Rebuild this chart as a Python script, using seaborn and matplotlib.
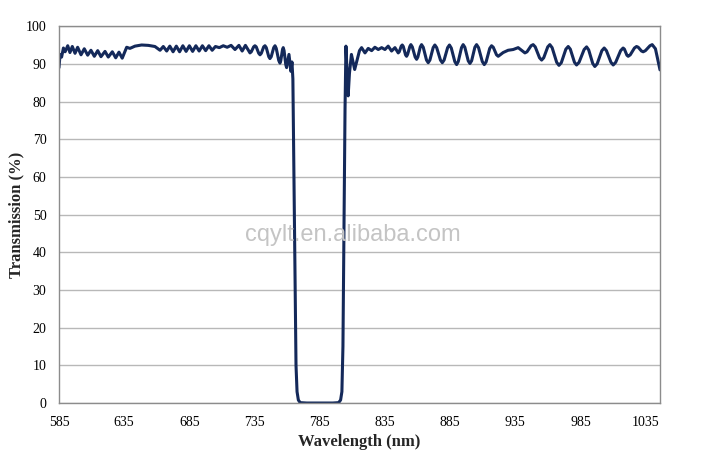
import matplotlib
matplotlib.use('Agg')
import matplotlib.pyplot as plt
import seaborn as sns

# Values (wavelength in nm, transmission in %)
# left pass band
left_nm = [
    585.0, 585.8, 587.0, 588.4, 589.7, 591.7, 593.4, 595.2, 597.3, 599.3,
    601.9, 604.4, 607.0, 609.5, 612.1, 614.7, 617.2, 620.3, 622.8, 625.9,
    628.5, 631.0, 633.5, 636.9, 639.4, 643.3, 648.4, 653.5, 658.6, 662.5,
    665.0, 667.6, 670.0, 672.5, 675.0, 677.5, 680.0, 682.5, 685.0, 687.5,
    690.0, 692.5, 695.0, 697.5, 700.0, 702.5, 705.0, 708.0, 711.0, 714.0,
    717.0, 720.0, 723.0, 725.5, 728.0, 731.5, 732.5, 734.3, 735.3, 736.3,
    738.2, 739.2, 740.2, 742.0, 743.0, 744.0, 745.9, 746.8, 747.8, 749.7,
    750.7, 751.65, 753.55, 754.5, 755.1, 756.4, 757.0, 757.65, 758.95, 759.6,
    761.4, 762.9, 763.7,
]
left_pct = [
    89.0, 92.5, 91.8, 94.2, 93.2, 94.8, 93.0, 94.6, 92.8, 94.4,
    92.4, 94.0, 92.3, 93.6, 92.0, 93.5, 91.9, 93.3, 91.8, 93.2,
    91.6, 93.1, 91.5, 94.4, 94.1, 94.7, 95.0, 94.9, 94.6, 93.6,
    94.6, 93.4, 94.7, 93.2, 94.7, 93.2, 94.8, 93.3, 94.8, 93.3,
    94.8, 93.4, 94.8, 93.5, 94.8, 93.6, 94.6, 94.3, 94.8, 94.4,
    94.9, 93.8, 94.9, 93.4, 94.9, 92.9, 93.2, 94.5, 94.8, 94.5,
    92.8, 92.4, 92.8, 94.5, 94.8, 94.3, 91.9, 91.4, 91.9, 94.3,
    94.8, 94.1, 90.9, 90.2, 90.8, 93.7, 94.3, 93.5, 89.8, 89.0,
    92.5, 88.0, 90.5,
]

# blocking band (notch)
notch_nm = [
    764.4, 765.2, 766.0, 766.8, 767.6, 768.6, 770.0, 775.0, 780.0, 785.0,
    790.0, 795.0, 799.5, 801.0, 802.0, 802.8, 803.6, 804.4, 805.1, 805.8,
    806.8, 807.8, 809.3, 811.8, 813.8, 815.5,
]
notch_pct = [
    86.0, 60.0, 32.0, 10.0, 3.0, 0.8, 0.1, 0.0, 0.0, 0.0,
    0.0, 0.0, 0.1, 0.8, 3.0, 15.0, 45.0, 78.0, 94.7, 89.0,
    81.5, 87.5, 92.5, 88.5, 91.2, 93.5,
]

# right pass band
right_nm = [
    817.1, 819.7, 822.2, 824.8, 827.3, 829.9, 832.5, 835.0, 837.5, 840.1,
    842.7, 845.2, 846.0, 847.5, 848.3, 849.1, 850.8, 851.6, 852.4, 854.1,
    854.9, 856.0, 858.2, 859.3, 860.25, 862.15, 863.1, 864.4, 866.9, 868.2,
    869.5, 872.0, 873.3, 874.7, 877.6, 879.0, 880.4, 883.1, 884.5, 885.9,
    888.6, 890.0, 891.25, 893.75, 895.0, 896.3, 898.9, 900.2, 901.5, 904.0,
    905.3, 906.8, 909.7, 911.2, 912.6, 915.4, 916.8, 918.1, 920.6, 921.9,
    925.7, 929.5, 933.4, 937.2, 942.4, 944.0, 947.1, 948.7, 950.3, 953.6,
    955.2, 956.8, 959.9, 961.5, 963.25, 966.75, 968.5, 970.3, 973.8, 975.6,
    977.2, 980.4, 982.0, 983.9, 987.8, 989.7, 991.3, 994.4, 996.0, 997.8,
    1001.4, 1003.2, 1004.9, 1008.4, 1010.1, 1012.0, 1015.8, 1017.7, 1018.7, 1020.6,
    1021.6, 1023.2, 1026.4, 1028.0, 1029.3, 1031.8, 1033.1, 1034.8, 1038.3, 1040.0,
    1042.5, 1046.0,
]
right_pct = [
    94.3, 92.9, 94.1, 93.5, 94.4, 93.8, 94.3, 93.8, 94.7, 93.4,
    94.3, 92.9, 93.2, 94.7, 95.0, 94.6, 92.4, 92.0, 92.5, 94.6,
    95.1, 94.5, 91.8, 91.2, 91.8, 94.5, 95.1, 94.4, 91.0, 90.3,
    91.0, 94.3, 95.0, 94.3, 91.0, 90.3, 91.0, 94.3, 95.0, 94.2,
    90.6, 89.8, 90.6, 94.3, 95.1, 94.4, 90.8, 90.1, 90.8, 94.4,
    95.1, 94.3, 90.6, 89.8, 90.5, 94.1, 94.8, 94.4, 92.4, 92.0,
    93.0, 93.6, 93.8, 94.3, 92.9, 93.2, 94.8, 95.1, 94.5, 91.6,
    91.0, 91.6, 94.5, 95.1, 94.3, 90.4, 89.6, 90.3, 93.9, 94.6,
    93.9, 90.4, 89.7, 90.4, 93.8, 94.5, 93.7, 90.1, 89.3, 90.0,
    93.5, 94.2, 93.5, 90.4, 89.7, 90.4, 93.5, 94.2, 93.9, 92.3,
    92.0, 92.4, 94.2, 94.6, 94.4, 93.4, 93.2, 93.5, 94.8, 95.1,
    94.0, 88.4,
]

x_ticks = [585, 635, 685, 735, 785, 835, 885, 935, 985, 1035]
y_ticks = [0, 10, 20, 30, 40, 50, 60, 70, 80, 90, 100]

wavelength_nm = left_nm + notch_nm + right_nm
transmission_pct = left_pct + notch_pct + right_pct

sns.set_style('white')
plt.rcParams['font.family'] = ['Liberation Serif', 'DejaVu Serif']

fig = plt.figure(figsize=(7.04, 4.67), dpi=100)
ax = fig.add_axes([0.0838, 0.137, 0.8537, 0.807])

sns.lineplot(x=wavelength_nm, y=transmission_pct, ax=ax, color='#14295a',
             linewidth=2.2, estimator=None, errorbar=None,
             solid_joinstyle='round', solid_capstyle='round')

ax.set_xlim(585, 1046)
ax.set_ylim(0, 100)
ax.set_xticks(x_ticks)
ax.set_yticks(y_ticks)
ax.yaxis.grid(True, color='#b8b8b8', linewidth=1)
ax.xaxis.grid(False)
ax.set_axisbelow(True)
for s in ax.spines.values():
    s.set_color('#8c8c8c')
    s.set_linewidth(1)
ax.tick_params(axis='both', direction='out', length=4, width=1, color='#8c8c8c',
               labelsize=10, labelcolor='black', pad=5)

ax.set_xlabel('Wavelength (nm)', fontsize=12, fontweight='bold', labelpad=4)
ax.set_ylabel('Transmission (%)', fontsize=12, fontweight='bold')
ax.yaxis.set_label_coords(-0.057, 0.5)

# watermark
ax.text(0.489, 0.446, 'cqylt.en.alibaba.com', transform=ax.transAxes,
        family='Liberation Sans', fontsize=17, color='#c4c4c4',
        ha='center', va='center')

fig.savefig('out.png', dpi=100)
